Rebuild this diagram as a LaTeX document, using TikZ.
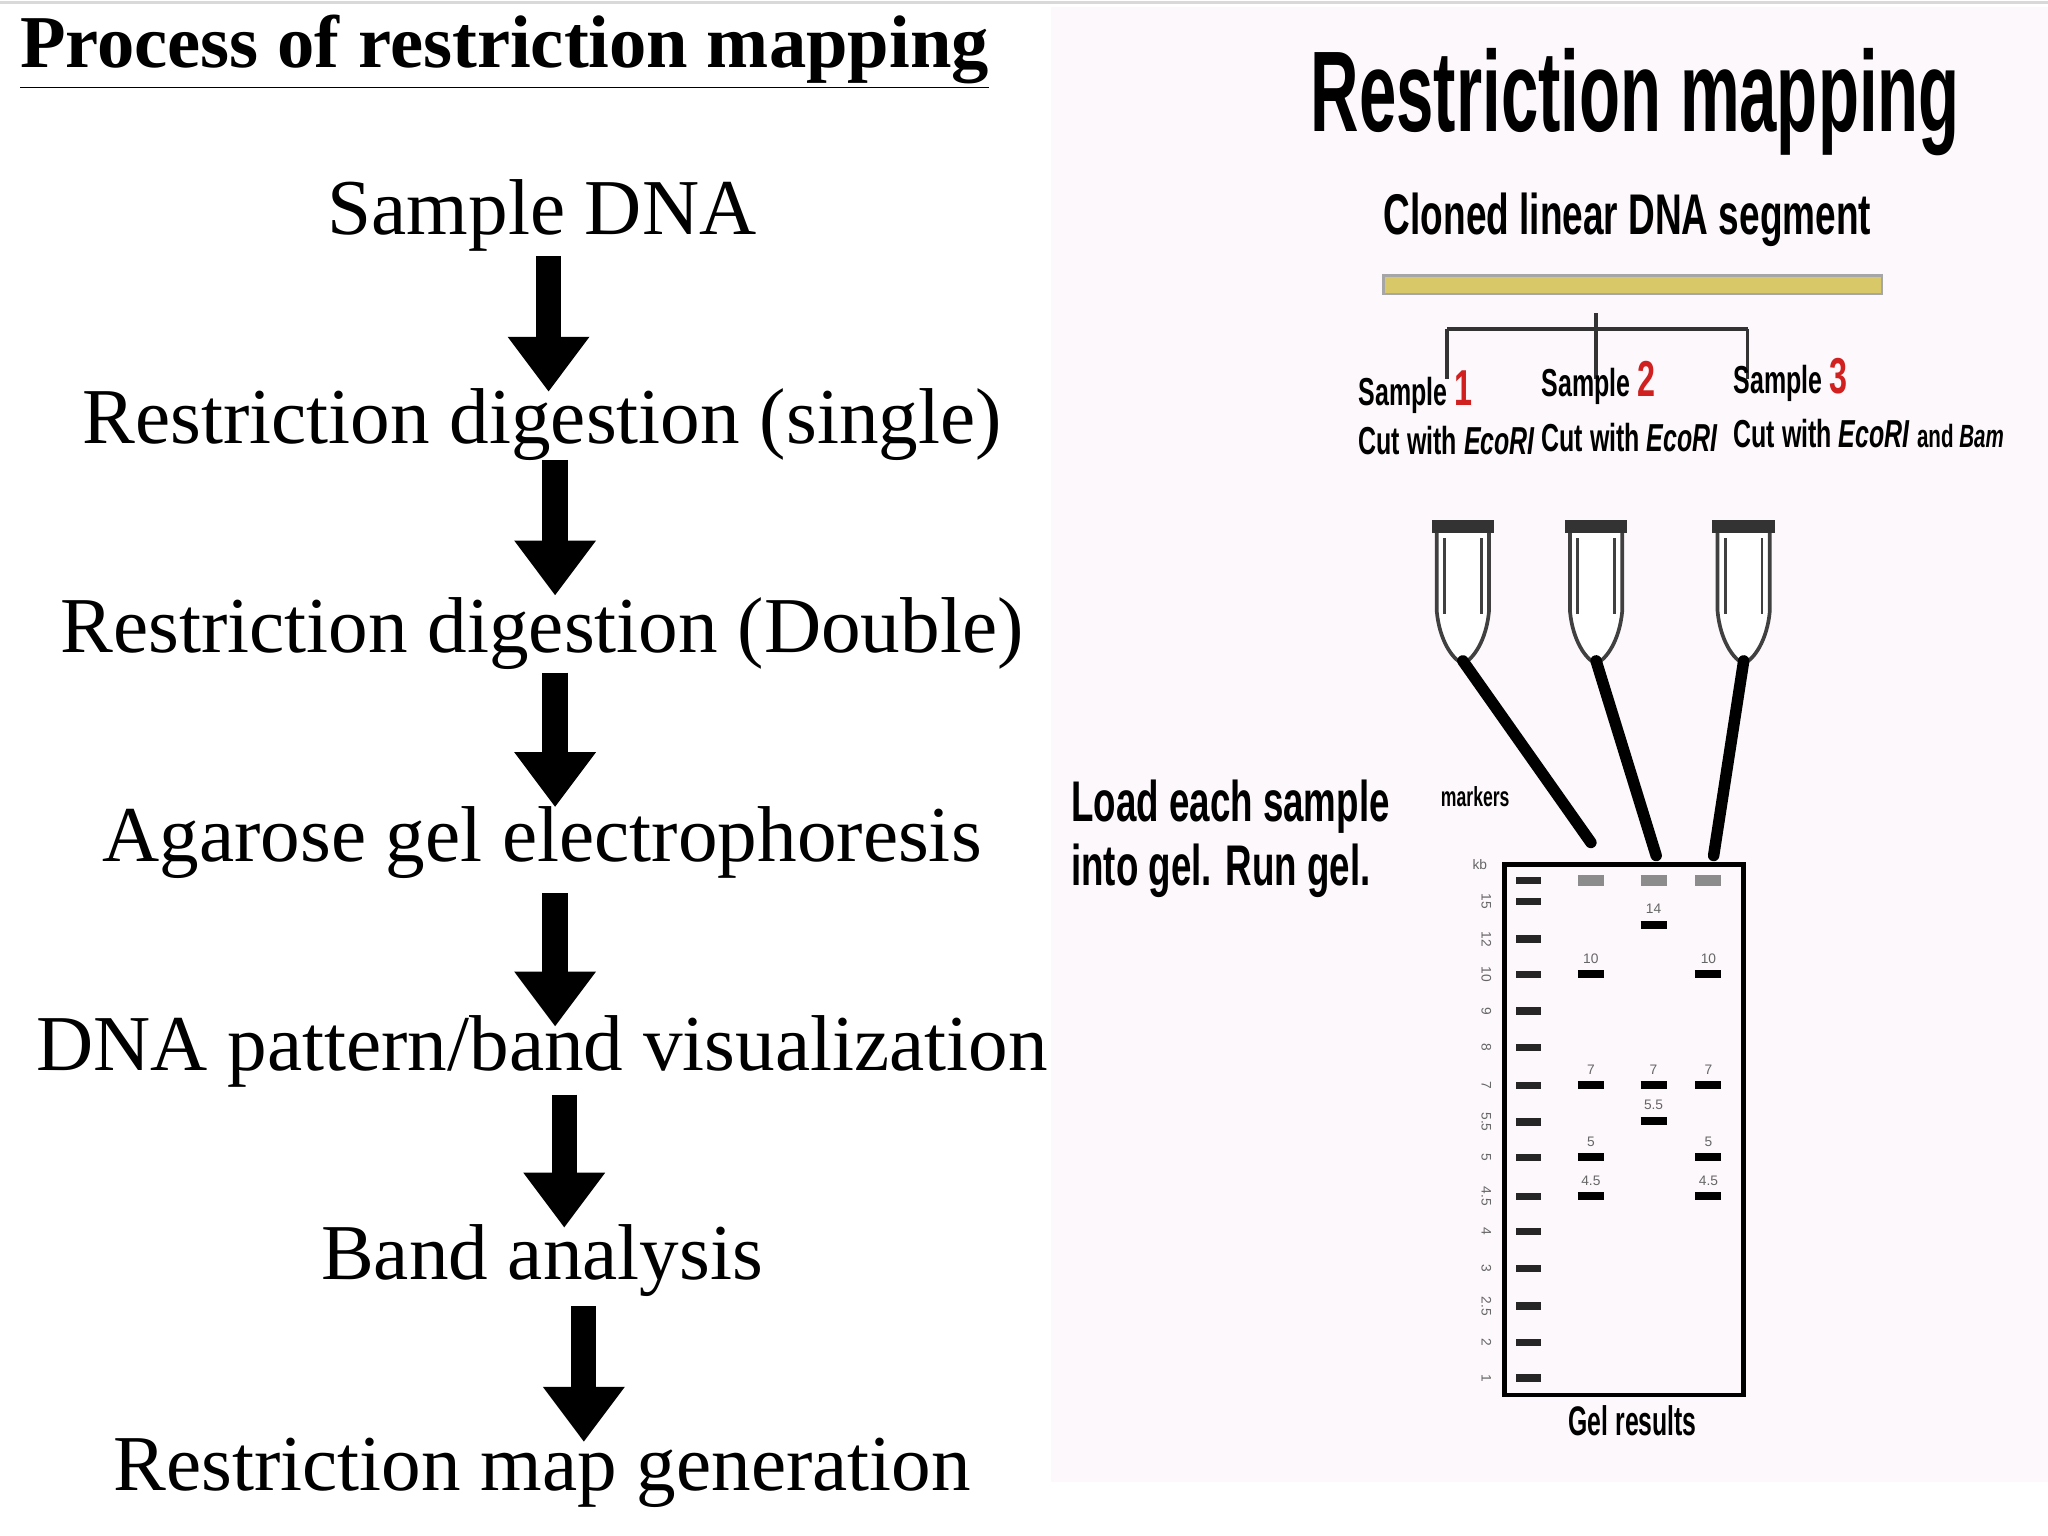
\documentclass[tikz,border=0pt]{standalone}
\usepackage{fontspec}
\setmainfont{Liberation Serif}
\newfontfamily\hsans{Liberation Sans}
\usetikzlibrary{arrows.meta}
\definecolor{pinkbg}{HTML}{FCF8FB}
\definecolor{dnay}{HTML}{D8C868}
\definecolor{redn}{HTML}{D02020}
\tikzset{
  stepnode/.style={font=\fontsize{34.5}{38}\selectfont, anchor=center, inner sep=0},
  bigarrow/.style={-{Triangle[width=34pt,length=24pt]}, line width=11pt, black},
  rlab/.style={font=\hsans\bfseries, anchor=west, inner sep=0, xscale=0.64},
  tube/.style={draw=black!75, line width=1.6pt, fill=white},
  mband/.style={line width=3.2pt, black!85},
  lband/.style={line width=3.5pt, black},
  tinyl/.style={font=\hsans\fontsize{6}{6}\selectfont, inner sep=0, black!60},
  loadline/.style={line width=5pt, black, line cap=round}
}
\begin{document}
\begin{tikzpicture}[x=0.02cm,y=-0.02cm]
\useasboundingbox (0,0) rectangle (1568,1176);
\fill[white] (0,0) rectangle (1568,1176);
\fill[pinkbg] (805,5) rectangle (1568,1135);
\draw[black!15, line width=1pt] (0,2) -- (1568,2);
% ---------- left flow ----------
\node[anchor=west, inner sep=0, font=\fontsize{32.5}{36}\selectfont\bfseries] (title) at (15,40) {\underline{Process of restriction mapping}};
\node[stepnode] (s1) at (415,165) {Sample DNA};
\node[stepnode] (s2) at (415,325) {Restriction digestion (single)};
\node[stepnode] (s3) at (415,485) {Restriction digestion (Double)};
\node[stepnode] (s4) at (415,645) {Agarose gel electrophoresis};
\node[stepnode] (s5) at (415,805) {DNA pattern/band visualization};
\node[stepnode] (s6) at (415,965) {Band analysis};
\node[stepnode] (s7) at (415,1128) {Restriction map generation};
\coordinate (a1s) at (420,196); \coordinate (a1e) at (420,300);
\coordinate (a2s) at (425,352); \coordinate (a2e) at (425,456);
\coordinate (a3s) at (425,515); \coordinate (a3e) at (425,618);
\coordinate (a4s) at (425,684); \coordinate (a4e) at (425,786);
\coordinate (a5s) at (432,838); \coordinate (a5e) at (432,940);
\coordinate (a6s) at (447,1000); \coordinate (a6e) at (447,1104);
\foreach \i in {1,...,6} {\draw[bigarrow] (a\i s) -- (a\i e);}
% ---------- right figure ----------
\node[font=\hsans\bfseries\fontsize{50}{52}\selectfont, xscale=0.585, inner sep=0] (rt) at (1252,78) {Restriction mapping};
\node[font=\hsans\bfseries\fontsize{25}{26}\selectfont, xscale=0.645, inner sep=0] (cl) at (1246,168) {Cloned linear DNA segment};
\fill[black!35] (1058,210) rectangle (1442,226);
\fill[dnay] (1060,212) rectangle (1440,224);
\draw[black!80, line width=1.5pt] (1108,252) -- (1338,252);
\draw[black!80, line width=1.5pt] (1108,252) -- (1108,290);
\draw[black!80, line width=1.5pt] (1222,240) -- (1222,290);
\draw[black!80, line width=1.5pt] (1338,252) -- (1338,290);
\node[rlab, font=\hsans\bfseries\fontsize{17}{18}\selectfont] (sa1) at (1040,300) {Sample \textcolor{redn}{\fontsize{22}{22}\selectfont 1}};
\node[rlab, font=\hsans\bfseries\fontsize{17}{18}\selectfont] (ca1) at (1040,337) {Cut with \textit{EcoRI}};
\node[rlab, font=\hsans\bfseries\fontsize{17}{18}\selectfont] (sa2) at (1180,293) {Sample \textcolor{redn}{\fontsize{22}{22}\selectfont 2}};
\node[rlab, font=\hsans\bfseries\fontsize{17}{18}\selectfont] (ca2) at (1180,335) {Cut with \textit{EcoRI}};
\node[rlab, font=\hsans\bfseries\fontsize{17}{18}\selectfont] (sa3) at (1327,291) {Sample \textcolor{redn}{\fontsize{22}{22}\selectfont 3}};
\node[rlab, font=\hsans\bfseries\fontsize{17}{18}\selectfont] (ca3) at (1327,332) {Cut with \textit{EcoRI} {\fontsize{14}{14}\selectfont and \textit{Bam}}};
% tubes
\foreach \n/\x in {1/1120,2/1222,3/1335} {
  \draw[tube] (\x-20,408) -- (\x-20,468) .. controls (\x-18,490) and (\x-8,505) .. (\x,508) .. controls (\x+8,505) and (\x+18,490) .. (\x+20,468) -- (\x+20,408);
  \draw[black!75, line width=1.2pt] (\x-14,412) -- (\x-14,470);
  \draw[black!75, line width=1.2pt] (\x+14,412) -- (\x+14,470);
  \fill[black!80] (\x-24,398) rectangle (\x+24,408);
  \coordinate (tb\n) at (\x,506);
}
\node[rlab, font=\hsans\bfseries\fontsize{25}{28}\selectfont, align=left] (load) at (820,642) {Load each sample\\into gel. Run gel.};
\node[rlab, font=\hsans\bfseries\fontsize{12}{12}\selectfont] (mk) at (1103,610) {markers};
% gel
\draw[black, line width=2pt] (1152,662) rectangle (1335,1068);
\coordinate (w1) at (1218,645); \coordinate (w2) at (1268,655); \coordinate (w3) at (1312,655);
\draw[loadline] (tb1) -- (w1);
\draw[loadline] (tb2) -- (w2);
\draw[loadline] (tb3) -- (w3);
\node[tinyl] (kb) at (1133,662) {kb};
\foreach \y/\l in {674/,690/15,719/12,746/10,774/9,802/8,831/7,859/5.5,886/5,916/4.5,943/4,971/3,1000/2.5,1028/2,1055/1} {
  \draw[mband] (1161,\y) -- (1180,\y);
  \node[tinyl, rotate=-90] at (1138,\y) {\l};
}
\foreach \x in {1218,1266,1308} {\draw[line width=5pt, black!45] (\x-10,674) -- (\x+10,674);}
\foreach \x in {1218,1308} {
  \foreach \y/\l in {746/10,831/7,886/5,916/4.5} {
    \draw[lband] (\x-10,\y) -- (\x+10,\y);
    \node[tinyl] at (\x,\y-12) {\l};
  }
}
\foreach \y/\l in {708/14,831/7,858/5.5} {
  \draw[lband] (1256,\y) -- (1276,\y);
  \node[tinyl] at (1266,\y-12) {\l};
}
\node[font=\hsans\bfseries\fontsize{18}{18}\selectfont, xscale=0.6, inner sep=0] (gr) at (1250,1088) {Gel results};
\end{tikzpicture}
\end{document}
